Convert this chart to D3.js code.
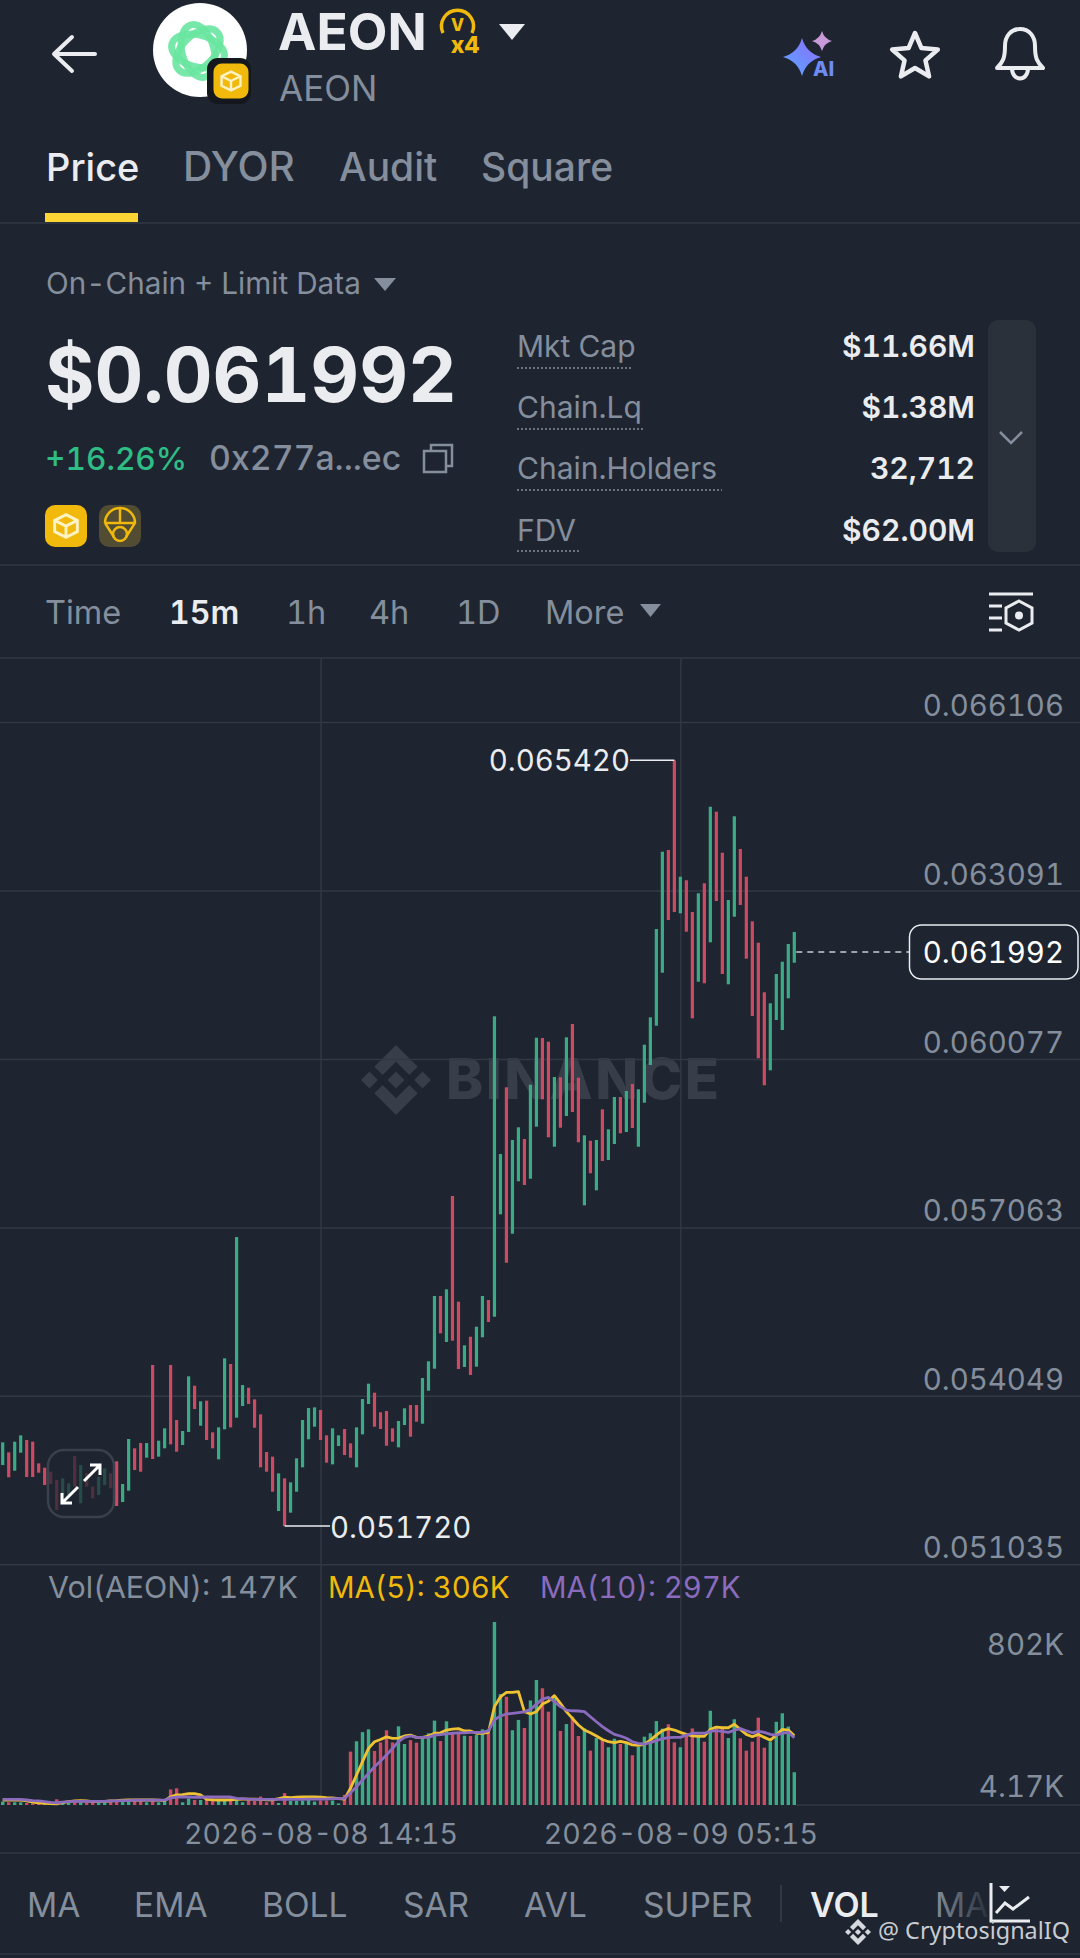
<!DOCTYPE html>
<html>
<head>
<meta charset="utf-8">
<script src="https://cdn.jsdelivr.net/npm/d3@7/dist/d3.min.js"></script>
<style>
  html, body { margin: 0; padding: 0; background: #1e2530; }
  svg { display: block; font-family: Inter, "Noto Sans", sans-serif; font-variant-numeric: tabular-nums; font-feature-settings: "tnum"; }
</style>
</head>
<body>
<div id="chart"></div>
<script>
// prices are in millionths, one entry per 15m candle
var candleHigh = [
  53217,53038,53229,53342,53259,53229,52841,52764,52692,52543,
  52573,52483,52972,52811,52662,52424,52603,52752,52662,52877,
  52472,53277,53110,53205,53205,54601,53247,53468,54601,53617,
  53420,54398,54231,53951,53963,53396,53485,54720,54619,56891,
  54243,54195,53986,53718,53044,52961,52662,52573,52501,52931,
  53617,53831,53843,53796,53342,53468,53342,53456,53199,53485,
  53992,54267,54106,53755,53778,53468,53599,53826,53885,53885,
  54368,54667,55836,55836,55955,57625,55734,54953,55107,55286,
  55836,55764,60840,58376,59570,58627,58854,58645,59616,60457,
  60452,60386,59754,59749,60464,60702,59742,58711,58614,58627,
  59176,58818,59396,59396,59504,59629,59534,60332,60822,62402,
  63785,63816,65420,63338,63274,62706,63041,63220,64590,64501,
  63767,62921,64419,63834,63338,62540,62157,61270,61073,61597,
  61817,62134,62348
];
var candleLow = [
  52811,52591,52710,53032,52597,52597,52674,52454,52472,52006,
  52155,52275,52424,52126,52424,52215,52275,52454,52394,52078,
  52149,52352,52722,52692,52943,52919,52961,53110,53181,53050,
  53169,53402,53813,53515,53259,53110,52913,53450,53485,53658,
  53867,53903,53479,52770,52692,52334,51988,51720,51959,52334,
  52770,53271,53497,53259,52853,52823,53151,52990,52943,52770,
  53360,53903,53497,53456,53157,53229,53128,53527,53318,53586,
  53551,54141,54535,55168,55013,55036,54529,54565,54422,54571,
  55097,55370,55465,57297,56431,56950,57888,57822,57934,58865,
  59355,58675,58507,58847,59056,59128,58586,57458,58031,57727,
  58251,58269,58555,58747,58770,58841,58507,59294,59969,60672,
  61620,62563,62706,62683,62354,60804,61459,61431,62164,62903,
  61597,61413,62622,62832,61871,60846,60089,59606,59874,60774,
  60595,61162,61799
];
// 1 = green candle, 0 = red candle
var candleUp = [
  1,0,1,1,0,0,0,0,0,0,
  1,1,0,1,0,0,1,1,0,0,
  1,1,0,0,1,0,1,1,0,0,
  1,1,0,1,0,0,1,1,0,1,
  1,0,0,0,0,0,1,0,1,1,
  1,1,1,0,0,1,1,0,0,1,
  1,1,0,0,0,0,1,1,0,0,
  1,1,1,0,1,0,0,1,0,1,
  1,0,1,1,0,1,1,0,1,1,
  0,0,1,0,1,0,0,1,0,1,
  0,1,1,0,1,0,1,1,1,1,
  1,0,0,1,0,0,1,0,1,0,
  0,1,1,0,0,0,0,0,1,1,
  1,1,1
];
// volumes in thousands
var volume = [
  19,16,16,16,13,11,11,10,10,29,
  19,13,16,17,16,13,17,24,22,19,
  17,22,22,22,16,27,16,22,72,77,
  16,33,26,26,26,24,22,22,26,26,
  16,30,22,41,16,24,13,56,22,22,
  24,27,19,24,24,24,11,48,237,282,
  322,334,240,277,330,277,347,270,287,276,
  302,317,372,283,369,317,324,306,305,309,
  334,317,802,488,476,330,375,340,460,549,
  513,411,469,327,357,389,305,338,241,296,
  287,256,293,270,273,221,258,302,317,370,
  337,356,277,256,317,338,302,280,415,338,
  338,296,378,295,241,280,385,254,280,367,
  404,346,147
];
var ma5 = [
  26,26,26,25,22,17,14,11,10,9,
  14,19,22,23,22,19,20,20,22,23,
  25,26,26,26,26,26,25,23,40,48,
  49,54,54,48,29,27,26,26,27,29,
  30,30,30,29,27,27,32,38,36,38,
  39,40,40,38,36,35,32,30,77,135,
  193,251,280,290,301,295,296,305,309,299,
  299,305,317,319,331,335,337,327,327,317,
  317,321,433,476,495,495,498,411,401,411,
  444,457,481,447,411,382,353,331,319,305,
  290,280,276,282,276,266,264,269,287,309,
  328,337,331,321,312,306,303,303,334,344,
  341,341,356,334,312,302,312,299,287,309,
  334,331,306
];
var ma10 = [
  29,29,29,29,26,23,22,19,16,14,
  17,19,20,20,20,20,20,20,22,22,
  23,23,25,25,25,25,25,25,35,39,
  39,39,38,38,39,39,40,40,39,33,
  32,30,29,29,29,29,29,29,29,29,
  29,30,30,30,30,32,32,33,58,84,
  113,142,171,196,222,251,280,299,305,299,
  299,299,309,311,314,317,319,319,321,321,
  321,328,375,392,401,404,407,410,421,444,
  466,473,455,433,418,415,414,411,389,367,
  346,328,312,305,295,280,273,269,276,285,
  293,298,299,299,309,317,317,317,325,328,
  325,321,330,337,328,319,325,321,312,309,
  317,321,297
];
var priceTicks = [66106, 63091, 60077, 57063, 54049, 51035];
var volTicks = [802, 4.17];
var volTickLabels = ["802K", "4.17K"];
var timeTicks = [53, 113];
var timeLabels = ["2026-08-08 14:15", "2026-08-09 05:15"];
var lastPrice = 61992, highMark = 65420, lowMark = 51720;
var highIndex = 112, lowIndex = 47;

var topTabs = ["Price", "DYOR", "Audit", "Square"];
var statNames = ["Mkt Cap", "Chain.Lq", "Chain.Holders", "FDV"];
var statValues = ["$11.66M", "$1.38M", "32,712", "$62.00M"];
var intervals = ["Time", "15m", "1h", "4h", "1D", "More"];
var indicators = ["MA", "EMA", "BOLL", "SAR", "AVL", "SUPER"];

var BG = "#1e2530", GRID = "#323944", GRAY = "#848e9c", WHITE = "#eaecef",
    GREEN = "#3bab85", RED = "#cc4b63", YELLOW = "#f0b90b", PURPLE = "#8a6bbd";

var svg = d3.select("#chart").append("svg")
  .attr("width", 1080).attr("height", 1958);
svg.append("rect").attr("width", 1080).attr("height", 1958).attr("fill", BG);

function txt(x, y, s, size, color, weight, anchor){
  return svg.append("text").attr("x", x).attr("y", y).text(s)
    .attr("font-size", size).attr("fill", color)
    .attr("font-weight", weight || 400)
    .attr("text-anchor", anchor || "start");
}
function hline(y, x0, x1){
  svg.append("line").attr("x1", x0 || 0).attr("x2", x1 || 1080)
    .attr("y1", y).attr("y2", y).attr("stroke", GRID).attr("stroke-width", 1.5);
}

//scales
var x = d3.scaleLinear().domain([0, 132]).range([2.7, 794.3]);
var yPrice = d3.scaleLinear().domain([51035, 66106]).range([1564.3, 722]);
var yVol = d3.scaleLinear().domain([4.17, 802]).range([1805, 1622]);

// header
svg.append("path").attr("d", "M95 54H55M72 37L54 54L72 71")
  .attr("fill", "none").attr("stroke", WHITE).attr("stroke-width", 4)
  .attr("stroke-linecap", "round").attr("stroke-linejoin", "round");

svg.append("circle").attr("cx", 200).attr("cy", 50).attr("r", 47).attr("fill", "#fff");
var logo = svg.append("g").attr("transform", "translate(198,51)")
  .attr("fill", "none").attr("stroke", "#68e5a0").attr("stroke-width", 7).attr("stroke-opacity", 0.9);
[15, 75, 135].forEach(function(a){
  logo.append("ellipse").attr("rx", 27).attr("ry", 16).attr("transform", "rotate(" + a + ")");
});
svg.append("rect").attr("x", 207).attr("y", 58).attr("width", 44).attr("height", 46)
  .attr("rx", 11).attr("fill", "#14181e");
function bnbBadge(cx, cy, w, fill){
  svg.append("rect").attr("x", cx - w / 2).attr("y", cy - w / 2).attr("width", w).attr("height", w)
    .attr("rx", w * 0.24).attr("fill", fill);
  var r = w * 0.27;
  svg.append("path")
    .attr("d", "M" + cx + " " + (cy - r) + "L" + (cx + r) + " " + (cy - r / 2) + "V" + (cy + r / 2) +
      "L" + cx + " " + (cy + r) + "L" + (cx - r) + " " + (cy + r / 2) + "V" + (cy - r / 2) + "Z" +
      "M" + (cx - r) + " " + (cy - r / 2) + "L" + cx + " " + cy + "L" + (cx + r) + " " + (cy - r / 2) +
      "M" + cx + " " + cy + "V" + (cy + r))
    .attr("fill", "none").attr("stroke", "#fff2c4").attr("stroke-width", w * 0.07);
}
bnbBadge(231, 81, 35, YELLOW);

txt(278, 50, "AEON", 51.5, WHITE, 700);
txt(279, 101, "AEON", 35, GRAY, 400);

// v x4 badge
svg.append("path").attr("d", "M443 33A16 16 0 1 1 472 33")
  .attr("fill", "none").attr("stroke", YELLOW).attr("stroke-width", 3.5);
txt(457.5, 31, "V", 17, YELLOW, 800, "middle");
txt(465, 53, "x4", 23, YELLOW, 800, "middle");
svg.append("path").attr("d", "M499 24H525L512 40Z").attr("fill", WHITE);

// AI, star, bell
var aiGrad = svg.append("defs").append("linearGradient").attr("id", "ai")
  .attr("x1", 0).attr("x2", 1).attr("y1", 1).attr("y2", 0);
aiGrad.append("stop").attr("offset", 0).attr("stop-color", "#57a8ff");
aiGrad.append("stop").attr("offset", 1).attr("stop-color", "#8f6bff");
function sparkle(cx, cy, r, fill){
  var k = r * 0.22;
  svg.append("path").attr("d", "M" + cx + " " + (cy - r) + "Q" + (cx + k) + " " + (cy - k) + " " + (cx + r) + " " + cy +
    "Q" + (cx + k) + " " + (cy + k) + " " + cx + " " + (cy + r) +
    "Q" + (cx - k) + " " + (cy + k) + " " + (cx - r) + " " + cy +
    "Q" + (cx - k) + " " + (cy - k) + " " + cx + " " + (cy - r) + "Z").attr("fill", fill);
}
sparkle(802, 57, 19, "url(#ai)");
sparkle(822, 41, 10, "#c99ad8");
txt(813, 76, "AI", 20, "#6f8cf5", 800);

svg.append("path")
  .attr("d", d3.range(10).map(function(i){
    var r = i % 2 ? 11 : 24, a = -Math.PI / 2 + i * Math.PI / 5;
    return (i ? "L" : "M") + (915 + r * Math.cos(a)) + " " + (57 + r * Math.sin(a));
  }).join("") + "Z")
  .attr("fill", "none").attr("stroke", WHITE).attr("stroke-width", 4.5).attr("stroke-linejoin", "round");
svg.append("path")
  .attr("d", "M997 68C1003 62 1005 58 1005 46C1005 36 1011 29 1020 29C1029 29 1035 36 1035 46C1035 58 1037 62 1043 68Z" +
    "M1012 68C1012 82 1028 82 1028 68")
  .attr("fill", "none").attr("stroke", WHITE).attr("stroke-width", 4).attr("stroke-linejoin", "round");

// tabs
var tabX = [46, 183, 339, 481];
var tabSize = [38, 40.5, 39, 39];
topTabs.forEach(function(t, i){
  txt(tabX[i], 181, t, tabSize[i], i == 0 ? WHITE : GRAY, 500);
});
svg.append("rect").attr("x", 45).attr("y", 213).attr("width", 93).attr("height", 9).attr("fill", "#fcd535");
hline(223);

// price block
txt(46, 294, "On-Chain + Limit Data", 29.7, GRAY, 400);
svg.append("path").attr("d", "M374 278H396L385 291Z").attr("fill", GRAY);
txt(45, 402, "$0.061992", 75.6, WHITE, 700);
txt(45, 470, "+16.26%", 31.6, "#2ebd85", 500);
txt(209, 470, "0x277a...ec", 33.8, GRAY, 500);
svg.append("path").attr("d", "M431 451V445H452V466H446M424 451H446V472H424Z")
  .attr("fill", "none").attr("stroke", GRAY).attr("stroke-width", 2.5);

bnbBadge(66, 526, 42, YELLOW);
svg.append("rect").attr("x", 99).attr("y", 505).attr("width", 42).attr("height", 42)
  .attr("rx", 10).attr("fill", "#514c32");
svg.append("path")
  .attr("d", "M105 523A15 15 0 0 1 135 523L126 537M105 523L114 537M105 523H135M120 509V523")
  .attr("fill", "none").attr("stroke", YELLOW).attr("stroke-width", 2.5);
svg.append("circle").attr("cx", 120).attr("cy", 534).attr("r", 7).attr("fill", "none")
  .attr("stroke", YELLOW).attr("stroke-width", 2.5);

var statY = [357, 418, 479, 541], statLine = [368, 429, 490, 551], statW = [116, 126, 205, 62];
statNames.forEach(function(s, i){
  txt(517, statY[i], s, 30, GRAY, 400);
  svg.append("line").attr("x1", 517).attr("x2", 517 + statW[i]).attr("y1", statLine[i]).attr("y2", statLine[i])
    .attr("stroke", GRAY).attr("stroke-width", 1.5).attr("stroke-dasharray", "2 2");
  txt(975, statY[i], statValues[i], 30, WHITE, 600, "end");
});
svg.append("rect").attr("x", 988).attr("y", 320).attr("width", 48).attr("height", 232)
  .attr("rx", 10).attr("fill", "#2a313b");
svg.append("path").attr("d", "M1000 432L1011 443L1022 432").attr("fill", "none")
  .attr("stroke", GRAY).attr("stroke-width", 2.5);
hline(565);

// interval row
var intervalX = [45, 169, 286, 369, 456, 545];
intervals.forEach(function(t, i){
  txt(intervalX[i], 624, t, i == 1 ? 32 : 32.5, i == 1 ? WHITE : GRAY, i == 1 ? 600 : 400);
});
svg.append("path").attr("d", "M640 604H661L650.5 617Z").attr("fill", GRAY);
svg.append("path").attr("d", "M989 594H1033M989 606H1002M989 618H1002M989 630H1002")
  .attr("stroke", WHITE).attr("stroke-width", 3);
svg.append("path").attr("d", "M1019 601L1032 608V623L1019 630L1006 623V608Z").attr("fill", "none")
  .attr("stroke", WHITE).attr("stroke-width", 3);
svg.append("circle").attr("cx", 1019).attr("cy", 615.5).attr("r", 4).attr("fill", WHITE);
hline(658);

// BINANCE watermark
var wm = svg.append("g").attr("fill", "#373e49");
wm.append("text").attr("x", 446).attr("y", 1099).attr("font-size", 56).attr("font-weight", 800)
  .attr("letter-spacing", 2.5).text("BINANCE");
function binanceMark(g, cx, cy, s){
  var top = [[0, -1], [0.62, -0.38], [0.38, -0.14], [0, -0.52], [-0.38, -0.14], [-0.62, -0.38]];
  var diamond = [[0, -0.24], [0.24, 0], [0, 0.24], [-0.24, 0]];
  function draw(pts, dx, dy, flip){
    g.append("path").attr("d", "M" + pts.map(function(p){
      return (cx + (p[0] + dx) * s) + " " + (cy + ((flip ? -p[1] : p[1]) + dy) * s);
    }).join("L") + "Z");
  }
  draw(top, 0, 0, false);
  draw(top, 0, 0, true);
  draw(diamond, 0, 0, false);
  draw(diamond, -0.76, 0, false);
  draw(diamond, 0.76, 0, false);
}
binanceMark(wm, 396, 1080, 35);

// grid and price axis
var priceGrid = svg.append("g")
  .call(d3.axisRight(yPrice).tickValues(priceTicks).tickSize(1080).tickFormat(""));
priceGrid.select(".domain").remove();
priceGrid.selectAll("line").attr("stroke", GRID).attr("stroke-width", 1.5);

var vGrid = svg.append("g").attr("transform", "translate(0,658)")
  .call(d3.axisBottom(x).tickValues(timeTicks).tickSize(1147).tickFormat(""));
vGrid.select(".domain").remove();
vGrid.selectAll("line").attr("stroke", GRID).attr("stroke-width", 1.5);

var priceAxis = svg.append("g").attr("transform", "translate(1064,0)")
  .call(d3.axisLeft(yPrice).tickValues(priceTicks).tickSize(0).tickPadding(0)
    .tickFormat(function(d){ return d3.format(".6f")(d / 1e6); }));
priceAxis.select(".domain").remove();
priceAxis.selectAll("text").attr("dy", -6.5).attr("font-size", 29.4).attr("fill", GRAY)
  .attr("font-family", "Inter");

// candles
svg.append("g").selectAll("rect").data(candleHigh).enter().append("rect")
  .attr("x", function(d, i){ return x(i) - 1.6; })
  .attr("width", 3.2)
  .attr("y", function(d){ return yPrice(d); })
  .attr("height", function(d, i){ return yPrice(candleLow[i]) - yPrice(d); })
  .attr("fill", function(d, i){ return candleUp[i] ? GREEN : RED; });

// high / low marks
svg.append("line").attr("x1", 630).attr("x2", x(highIndex)).attr("y1", yPrice(highMark)).attr("y2", yPrice(highMark))
  .attr("stroke", WHITE).attr("stroke-width", 1.5);
txt(630, yPrice(highMark) + 11, d3.format(".6f")(highMark / 1e6), 29.4, WHITE, 400, "end");
svg.append("line").attr("x1", x(lowIndex)).attr("x2", 330).attr("y1", yPrice(lowMark)).attr("y2", yPrice(lowMark))
  .attr("stroke", WHITE).attr("stroke-width", 1.5);
txt(330, yPrice(lowMark) + 12, d3.format(".6f")(lowMark / 1e6), 29.4, WHITE);

// last price
svg.append("line").attr("x1", x(132) + 2).attr("x2", 909).attr("y1", yPrice(lastPrice)).attr("y2", yPrice(lastPrice))
  .attr("stroke", "#c9ccd1").attr("stroke-width", 1.5).attr("stroke-dasharray", "6 5");
svg.append("rect").attr("x", 909.5).attr("y", 925).attr("width", 168.5).attr("height", 54).attr("rx", 12)
  .attr("fill", BG).attr("stroke", WHITE).attr("stroke-width", 1.5);
txt(1064, 963, d3.format(".6f")(lastPrice / 1e6), 29.4, "#fff", 400, "end");

// expand button
svg.append("rect").attr("x", 48).attr("y", 1450).attr("width", 66).attr("height", 67).attr("rx", 16)
  .attr("fill", BG).attr("fill-opacity", 0.72).attr("stroke", "#3a414c").attr("stroke-width", 2.5);
svg.append("path")
  .attr("d", "M62 1503L78 1487M62 1493V1503H72M84 1481L100 1465M90 1465H100V1475")
  .attr("fill", "none").attr("stroke", "#fff").attr("stroke-width", 3);

// volume pane
txt(48, 1598, "Vol(AEON): 147K", 30.4, GRAY);
txt(328, 1598, "MA(5): 306K", 29.4, YELLOW);
txt(540, 1598, "MA(10): 297K", 29.4, PURPLE);

svg.append("g").selectAll("rect").data(volume).enter().append("rect")
  .attr("x", function(d, i){ return x(i) - 1.7; })
  .attr("width", 3.4)
  .attr("y", function(d){ return yVol(d); })
  .attr("height", function(d){ return yVol(4.17) - yVol(d); })
  .attr("fill", function(d, i){ return candleUp[i] ? GREEN : RED; });

var maLine = d3.line().x(function(d, i){ return x(i); }).y(function(d){ return yVol(d); });
svg.append("path").datum(ma5).attr("d", maLine).attr("fill", "none")
  .attr("stroke", "#efc234").attr("stroke-width", 2.8).attr("stroke-linejoin", "round");
svg.append("path").datum(ma10).attr("d", maLine).attr("fill", "none")
  .attr("stroke", PURPLE).attr("stroke-width", 2.8).attr("stroke-linejoin", "round");

hline(1805, x(132) + 2);

var volLabelY = [1655, 1797];
volTicks.forEach(function(v, i){
  txt(1064, volLabelY[i], volTickLabels[i], 29.5, GRAY, 400, "end");
});

// time axis
var timeAxis = svg.append("g").attr("transform", "translate(0,1805)")
  .call(d3.axisBottom(x).tickValues(timeTicks).tickSize(0).tickPadding(0)
    .tickFormat(function(d, i){ return timeLabels[i]; }));
timeAxis.select(".domain").remove();
timeAxis.selectAll("text").attr("y", 0).attr("dy", 39).attr("font-size", 28.5).attr("fill", GRAY)
  .attr("font-family", "Inter");
hline(1853);

// indicator row
var indicatorX = [27, 134, 262, 403, 524, 643];
indicators.forEach(function(t, i){
  txt(indicatorX[i], 1917, t, 33.5, GRAY);
});
svg.append("line").attr("x1", 781).attr("x2", 781).attr("y1", 1885).attr("y2", 1922)
  .attr("stroke", GRID).attr("stroke-width", 2);
txt(810, 1917, "VOL", 34, WHITE, 600);
var fade = svg.select("defs").append("linearGradient").attr("id", "fade");
fade.append("stop").attr("offset", 0).attr("stop-color", GRAY);
fade.append("stop").attr("offset", 1).attr("stop-color", GRAY).attr("stop-opacity", 0.1);
txt(935, 1917, "MA", 33.5, "url(#fade)");
svg.append("path").attr("d", "M991 1883V1921H1030M996 1913L1005 1903L1013 1909L1029 1897")
  .attr("fill", "none").attr("stroke", WHITE).attr("stroke-width", 3);
svg.append("path").attr("d", "M999 1886H1010L1004.5 1892Z").attr("fill", WHITE);
hline(1954);

// source watermark
var wm2 = svg.append("g").attr("fill", "#d5d8dc");
binanceMark(wm2, 858, 1932, 13);
svg.append("text").attr("x", 878).attr("y", 1939).attr("font-size", 24).attr("fill", "#c8ccd2")
  .attr("font-family", "Noto Sans").attr("textLength", 192).attr("lengthAdjust", "spacingAndGlyphs")
  .text("@ CryptosignalIQ");
</script>
</body>
</html>
